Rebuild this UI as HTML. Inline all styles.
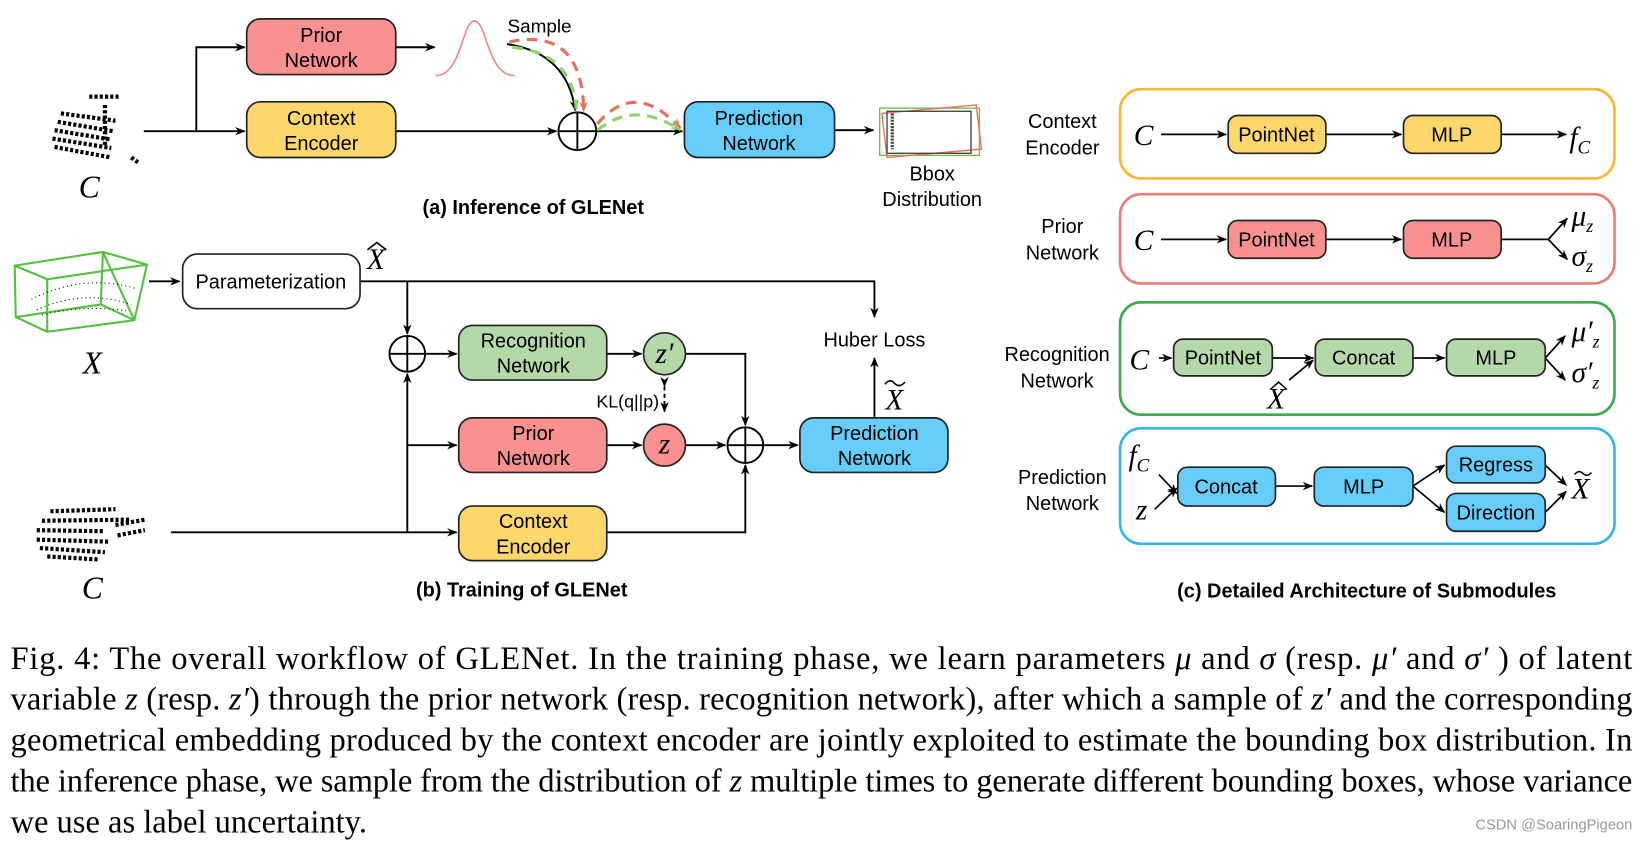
<!DOCTYPE html>
<html><head><meta charset="utf-8"><style>
html,body{margin:0;padding:0;background:#fff;}
svg{display:block;}
.s{font-family:"Liberation Sans",sans-serif;}
.m{font-family:"Liberation Serif",serif;font-style:italic;}
</style></head><body>
<svg width="1646" height="842" viewBox="0 0 1568 802" preserveAspectRatio="none" xmlns="http://www.w3.org/2000/svg">
<defs>
<marker id="a" markerWidth="10" markerHeight="8" refX="9" refY="4" orient="auto" markerUnits="userSpaceOnUse"><path d="M0,0 L10,4 L0,8 L3,4z" fill="#000"/></marker>
<marker id="ar" markerWidth="10" markerHeight="8" refX="9" refY="4" orient="auto" markerUnits="userSpaceOnUse"><path d="M0,0 L10,4 L0,8 L3,4z" fill="#e8705a"/></marker>
<marker id="ag" markerWidth="10" markerHeight="8" refX="9" refY="4" orient="auto" markerUnits="userSpaceOnUse"><path d="M0,0 L10,4 L0,8 L3,4z" fill="#8ed46a"/></marker>
</defs>
<g stroke="#000" stroke-width="1.8" fill="none">
<path d="M137,125 H233" marker-end="url(#a)"/>
<path d="M187,125 V45 H233" marker-end="url(#a)"/>
<path d="M377,45 H414" marker-end="url(#a)"/>
<path d="M377,125 H530" marker-end="url(#a)"/>
<path d="M568,125 H650" marker-end="url(#a)"/>
<path d="M795,124 H832" marker-end="url(#a)"/>
<path d="M483,42 Q540,50 548,105" marker-end="url(#a)"/>
<circle cx="550" cy="125" r="18"/><path d="M532,125H568M550,107V143"/>
</g>
<path d="M415,72 C440,72 440,20 452,20 C464,20 464,72 490,72" stroke="#f4898a" stroke-width="1.6" fill="none"/>
<path d="M485,40 Q555,25 556,106" stroke="#e8705a" stroke-width="3" stroke-dasharray="10,7" fill="none" marker-end="url(#ar)"/>
<path d="M488,45 Q545,50 549,104" stroke="#8ed46a" stroke-width="3" stroke-dasharray="10,7" fill="none"/>
<path d="M569,118 Q605,75 648,122" stroke="#e8705a" stroke-width="3" stroke-dasharray="10,7" fill="none" marker-end="url(#ar)"/>
<path d="M569,124 Q605,95 648,124" stroke="#8ed46a" stroke-width="3" stroke-dasharray="10,7" fill="none" marker-end="url(#ag)"/>
<g stroke="#222" stroke-width="1.6">
<rect x="235" y="18" width="142" height="53" rx="13" fill="#f99191"/>
<rect x="235" y="97" width="142" height="53" rx="13" fill="#fdd66c"/>
<rect x="652" y="97" width="143" height="53" rx="13" fill="#66ccf8"/>
</g>
<g class="s" font-size="19" text-anchor="middle" fill="#000">
<text x="306" y="40">Prior</text><text x="306" y="64">Network</text>
<text x="306" y="119">Context</text><text x="306" y="143">Encoder</text>
<text x="723" y="119">Prediction</text><text x="723" y="143">Network</text>
<text x="514" y="31" font-size="18">Sample</text>
<text x="888" y="172">Bbox</text><text x="888" y="196">Distribution</text>
<text x="508" y="204" font-weight="bold" font-size="19">(a) Inference of GLENet</text>
</g>
<g stroke="#000" stroke-width="4" stroke-dasharray="3,2" fill="none">
<path d="M85,92 H115"/><path d="M58,108 L110,115"/><path d="M55,116 L108,125"/><path d="M52,124 L106,133"/><path d="M50,132 L106,141"/><path d="M52,140 L106,150"/><path d="M100,100 V140"/><path d="M125,150 L132,155"/>
</g>
<g stroke="#444" stroke-width="1.3" fill="none">
<rect x="838" y="103" width="95" height="45" stroke="#6cc04a"/>
<path d="M840,108 L930,100 L935,142 L845,150z" stroke="#e8705a"/>
<rect x="845" y="106" width="80" height="40"/>
<path d="M850,108 V142" stroke-width="3" stroke-dasharray="2,1"/>
</g>
<text class="m" x="85" y="188" font-size="30" text-anchor="middle">C</text>
<g stroke="#55c040" stroke-width="2" fill="none">
<path d="M14,253 L98,240 L140,252 L128,305 L45,316 L15,302z"/><path d="M14,253 L45,266 L140,252"/><path d="M45,266 V316"/><path d="M98,240 L96,290 L15,302"/><path d="M96,290 L128,305"/><path d="M98,240 L128,305"/>
</g>
<g stroke="#000" stroke-width="1" stroke-dasharray="1,3" fill="none"><path d="M30,285 Q80,260 130,275"/><path d="M35,295 Q80,275 125,290"/><path d="M40,300 Q80,290 120,296"/></g>
<text class="m" x="88" y="356" font-size="30" text-anchor="middle">X</text>
<g stroke="#000" stroke-width="1.8" fill="none">
<path d="M142,268 H171" marker-end="url(#a)"/>
<path d="M343,268 H833 V302" marker-end="url(#a)"/>
<path d="M388,268 V318" marker-end="url(#a)"/>
<path d="M388,507 V356" marker-end="url(#a)"/>
<path d="M163,507 H435" marker-end="url(#a)"/>
<path d="M388,424 H435" marker-end="url(#a)"/>
<path d="M405,337 H435" marker-end="url(#a)"/>
<path d="M578,337 H611" marker-end="url(#a)"/>
<path d="M578,424 H611" marker-end="url(#a)"/>
<path d="M653,337 H710 V405" marker-end="url(#a)"/>
<path d="M578,507 H710 V443" marker-end="url(#a)"/>
<path d="M653,424 H691" marker-end="url(#a)"/>
<path d="M728,424 H760" marker-end="url(#a)"/>
<path d="M833,397 V341" marker-end="url(#a)"/>
<path d="M633,368 V392" stroke-dasharray="4,3" marker-end="url(#a)" marker-start="url(#a)"/>
<circle cx="388" cy="337" r="17"/><path d="M371,337H405M388,320V354"/>
<circle cx="710" cy="424" r="17"/><path d="M693,424H727M710,407V441"/>
</g>
<g stroke="#222" stroke-width="1.6">
<rect x="174" y="242" width="169" height="52" rx="14" fill="#fff"/>
<rect x="437" y="310" width="141" height="52" rx="13" fill="#b5d8a8"/>
<rect x="437" y="398" width="141" height="52" rx="13" fill="#f99191"/>
<rect x="437" y="482" width="141" height="52" rx="13" fill="#fdd66c"/>
<rect x="762" y="398" width="141" height="52" rx="13" fill="#66ccf8"/>
<circle cx="633" cy="337" r="20" fill="#b5d8a8"/>
<circle cx="633" cy="424" r="20" fill="#f99191"/>
</g>
<g class="s" font-size="19" text-anchor="middle" fill="#000">
<text x="258" y="275">Parameterization</text>
<text x="508" y="331">Recognition</text><text x="508" y="355">Network</text>
<text x="508" y="419">Prior</text><text x="508" y="443">Network</text>
<text x="508" y="503">Context</text><text x="508" y="527">Encoder</text>
<text x="833" y="419">Prediction</text><text x="833" y="443">Network</text>
<text x="833" y="330">Huber Loss</text>
<text x="598" y="388" font-size="17">KL(q||p)</text>
<text x="497" y="568" font-weight="bold" font-size="19">(b) Training of GLENet</text>
</g>
<g class="m" font-size="28" text-anchor="middle">
<text x="633" y="346">z′</text><text x="633" y="432">z</text>
<text x="358" y="256">X</text><path d="M350,238 L359,231 L368,238" stroke="#000" stroke-width="1.5" fill="none"/>
<text x="852" y="390">X</text><path d="M843,366 Q848,360 852,365 Q857,370 862,364" stroke="#000" stroke-width="1.5" fill="none"/>
<text x="88" y="570" font-size="30">C</text>
</g>
<g stroke="#000" stroke-width="4" stroke-dasharray="3,2" fill="none">
<path d="M48,487 L110,485"/><path d="M40,496 L125,495"/><path d="M35,505 L100,506"/><path d="M35,514 L105,516"/><path d="M38,522 L100,526"/><path d="M45,530 L95,533"/><path d="M110,500 L138,495"/><path d="M112,510 L138,505"/>
</g>
<g stroke-width="2.5" fill="none">
<rect x="1067" y="85" width="471" height="85" rx="20" stroke="#f9b730"/>
<rect x="1067" y="185" width="471" height="85" rx="20" stroke="#ec7a7a"/>
<rect x="1067" y="288" width="471" height="107" rx="20" stroke="#3ea84a"/>
<rect x="1067" y="408" width="471" height="110" rx="20" stroke="#33b5e8"/>
</g>
<g stroke="#000" stroke-width="1.6" fill="none">
<path d="M1106,128 H1168" marker-end="url(#a)"/><path d="M1263,128 H1335" marker-end="url(#a)"/><path d="M1430,128 H1492" marker-end="url(#a)"/>
<path d="M1106,228 H1168" marker-end="url(#a)"/><path d="M1263,228 H1335" marker-end="url(#a)"/><path d="M1430,228 H1475 L1493,208" marker-end="url(#a)"/><path d="M1475,228 L1493,247" marker-end="url(#a)"/>
<path d="M1104,341 H1116" marker-end="url(#a)"/><path d="M1212,341 H1251" marker-end="url(#a)"/><path d="M1228,362 L1251,343" marker-end="url(#a)"/><path d="M1346,341 H1376" marker-end="url(#a)"/><path d="M1472,341 L1491,320" marker-end="url(#a)"/><path d="M1472,341 L1491,362" marker-end="url(#a)"/>
<path d="M1104,452 L1121,470" marker-end="url(#a)"/><path d="M1100,485 L1121,465" marker-end="url(#a)"/><path d="M1215,463 H1250" marker-end="url(#a)"/><path d="M1346,463 L1376,443" marker-end="url(#a)"/><path d="M1346,463 L1376,488" marker-end="url(#a)"/><path d="M1472,443 L1492,462" marker-end="url(#a)"/><path d="M1472,488 L1492,468" marker-end="url(#a)"/>
<path d="M1210,371 L1218,364 L1226,371" stroke-width="1.4"/>
<path d="M1500,452 Q1504,447 1508,451 Q1512,455 1516,450" stroke-width="1.4"/>
</g>
<g stroke="#222" stroke-width="1.6">
<rect x="1170" y="110" width="93" height="36" rx="9" fill="#fdd66c"/><rect x="1337" y="110" width="93" height="36" rx="9" fill="#fdd66c"/>
<rect x="1170" y="210" width="93" height="36" rx="9" fill="#f99191"/><rect x="1337" y="210" width="93" height="36" rx="9" fill="#f99191"/>
<rect x="1118" y="323" width="94" height="35" rx="9" fill="#b5d8a8"/><rect x="1253" y="323" width="93" height="35" rx="9" fill="#b5d8a8"/><rect x="1378" y="323" width="94" height="35" rx="9" fill="#b5d8a8"/>
<rect x="1122" y="445" width="93" height="37" rx="9" fill="#66ccf8"/><rect x="1252" y="445" width="94" height="37" rx="9" fill="#66ccf8"/>
<rect x="1378" y="425" width="94" height="35" rx="9" fill="#66ccf8"/><rect x="1378" y="470" width="94" height="36" rx="9" fill="#66ccf8"/>
</g>
<g class="s" font-size="19" text-anchor="middle" fill="#000">
<text x="1216" y="135">PointNet</text><text x="1383" y="135">MLP</text>
<text x="1216" y="235">PointNet</text><text x="1383" y="235">MLP</text>
<text x="1165" y="347">PointNet</text><text x="1299" y="347">Concat</text><text x="1425" y="347">MLP</text>
<text x="1168" y="470">Concat</text><text x="1299" y="470">MLP</text><text x="1425" y="449">Regress</text><text x="1425" y="495">Direction</text>
<text x="1012" y="122">Context</text><text x="1012" y="147">Encoder</text>
<text x="1012" y="222">Prior</text><text x="1012" y="247">Network</text>
<text x="1007" y="344">Recognition</text><text x="1007" y="369">Network</text>
<text x="1012" y="461">Prediction</text><text x="1012" y="486">Network</text>
<text x="1302" y="569" font-weight="bold" font-size="19">(c) Detailed Architecture of Submodules</text>
</g>
<g class="m" font-size="28" fill="#000">
<text x="1080" y="138">C</text><text x="1495" y="140">f<tspan font-size="18" dy="6">C</tspan></text>
<text x="1080" y="238">C</text><text x="1497" y="215">μ<tspan font-size="17" dy="6">z</tspan></text><text x="1497" y="253">σ<tspan font-size="17" dy="6">z</tspan></text>
<text x="1076" y="352">C</text><text x="1207" y="389">X</text>
<text x="1497" y="325">μ′<tspan font-size="17" dy="6">z</tspan></text><text x="1497" y="364">σ′<tspan font-size="17" dy="6">z</tspan></text>
<text x="1075" y="443">f<tspan font-size="18" dy="6">C</tspan></text><text x="1082" y="495">z</text>
<text x="1497" y="475">X</text>
</g>
<g font-family="'Liberation Serif',serif" font-size="31" fill="#000">
<text x="10" y="637" textLength="1545" lengthAdjust="spacing">Fig. 4: The overall workflow of GLENet. In the training phase, we learn parameters <tspan font-style="italic">μ</tspan> and <tspan font-style="italic">σ</tspan> (resp. <tspan font-style="italic">μ′</tspan> and <tspan font-style="italic">σ′</tspan> ) of latent</text>
<text x="10" y="676" textLength="1545" lengthAdjust="spacing">variable <tspan font-style="italic">z</tspan> (resp. <tspan font-style="italic">z′</tspan>) through the prior network (resp. recognition network), after which a sample of <tspan font-style="italic">z′</tspan> and the corresponding</text>
<text x="10" y="715" textLength="1545" lengthAdjust="spacing">geometrical embedding produced by the context encoder are jointly exploited to estimate the bounding box distribution. In</text>
<text x="10" y="754" textLength="1545" lengthAdjust="spacing">the inference phase, we sample from the distribution of <tspan font-style="italic">z</tspan> multiple times to generate different bounding boxes, whose variance</text>
<text x="10" y="793">we use as label uncertainty.</text>
</g>
<text class="s" x="1555" y="790" font-size="14" fill="#999" text-anchor="end">CSDN @SoaringPigeon</text>
</svg>
</body></html>
